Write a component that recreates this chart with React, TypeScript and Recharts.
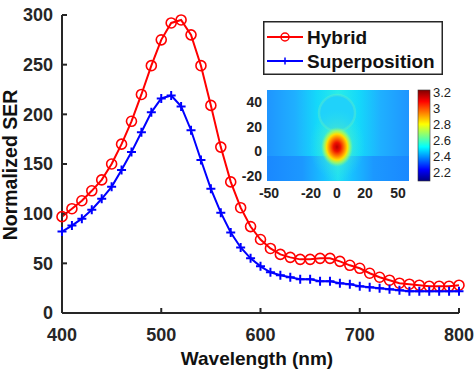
import React from "react";
import { LineChart, Line, XAxis, YAxis, Legend, Label } from "recharts";

const wavelengths = [
  400, 410, 420, 430, 440, 450, 460, 470, 480, 490, 500, 510, 520, 530, 540, 550, 560, 570, 580, 590,
  600, 610, 620, 630, 640, 650, 660, 670, 680, 690, 700, 710, 720, 730, 740, 750, 760, 770, 780, 790, 800,
];
const hybrid = [
  97, 105, 113, 123, 134, 150, 170, 193, 220, 249, 275, 292, 295, 280, 249, 209, 167, 132, 106, 87,
  74, 65, 59, 56, 54, 54, 55, 55, 52, 48, 45, 40, 36, 33, 30, 29, 28, 27, 27, 27, 28,
];
const superposition = [
  82, 88, 95, 104, 115, 127, 144, 162, 182, 202, 216, 219, 208, 184, 154, 125, 101, 81, 66, 55,
  47, 41, 38, 36, 34, 34, 32, 32, 30, 29, 27, 26, 25, 24, 23, 22, 22, 22, 22, 22, 22,
];
const xTicks = [400, 500, 600, 700, 800];
const yTicks = [0, 50, 100, 150, 200, 250, 300];
const insetYLabels = ["40", "20", "0", "-20"];
const insetXLabels = ["-50", "-20", "0", "20", "50"];
const colorbarLabels = ["3.2", "3", "2.8", "2.6", "2.4", "2.2"];

const data = wavelengths.map((w, i) => ({ w, hybrid: hybrid[i], superposition: superposition[i] }));

const FONT = "Arial, 'Liberation Sans', sans-serif";
const AX = "#262626";
const tickStyle = { fill: AX, fontSize: 18, fontWeight: 700, fontFamily: FONT };

const CircleDot = (props: any) => {
  const { cx, cy, key } = props;
  if (cx == null || cy == null) return null;
  return <circle key={key} cx={cx} cy={cy} r={5} fill="none" stroke="#ff0000" strokeWidth={1.6} />;
};
const PlusDot = (props: any) => {
  const { cx, cy, key } = props;
  if (cx == null || cy == null) return null;
  return (
    <path key={key} d={`M${cx - 4.5},${cy}H${cx + 4.5}M${cx},${cy - 4.5}V${cy + 4.5}`} stroke="#0000ff" strokeWidth={2} />
  );
};

const LegendBox = () => (
  <svg width={180} height={54} style={{ display: "block" }}>
    <rect x={0.75} y={0.75} width={178.5} height={52.5} fill="#fff" stroke={AX} strokeWidth={1.5} />
    <line x1={4} y1={16} x2={40} y2={16} stroke="#ff0000" strokeWidth={2} />
    <circle cx={22} cy={16} r={4} fill="none" stroke="#ff0000" strokeWidth={1.5} />
    <text x={44} y={23} fontFamily={FONT} fontWeight={700} fontSize={19} fill="#111">Hybrid</text>
    <line x1={4} y1={40} x2={40} y2={40} stroke="#0000ff" strokeWidth={2} />
    <path d="M22,36.5V43.5M18.5,40H25.5" stroke="#0000ff" strokeWidth={1.5} />
    <text x={44} y={47} fontFamily={FONT} fontWeight={700} fontSize={19} fill="#111">Superposition</text>
  </svg>
);

const Inset = () => (
  <svg width={474} height={370} style={{ position: "absolute", left: 0, top: 0, pointerEvents: "none" }}>
    <defs>
      <linearGradient id="hb" x1="0" x2="1" y1="0" y2="0">
        <stop offset="0" stopColor="#1f95ff" />
        <stop offset="0.2" stopColor="#1fb0ff" />
        <stop offset="0.35" stopColor="#14d8fa" />
        <stop offset="0.5" stopColor="#28ecea" />
        <stop offset="0.65" stopColor="#14d8fa" />
        <stop offset="0.8" stopColor="#1fb0ff" />
        <stop offset="1" stopColor="#1f95ff" />
      </linearGradient>
      <linearGradient id="hbLow" x1="0" x2="1" y1="0" y2="0">
        <stop offset="0" stopColor="#1a88ff" />
        <stop offset="0.25" stopColor="#1c98ff" />
        <stop offset="0.4" stopColor="#18c0ff" />
        <stop offset="0.5" stopColor="#20e0f2" />
        <stop offset="0.6" stopColor="#18c0ff" />
        <stop offset="0.75" stopColor="#1c98ff" />
        <stop offset="1" stopColor="#1a88ff" />
      </linearGradient>
      <radialGradient id="glow" cx="0.5" cy="0.5" r="0.5">
        <stop offset="0" stopColor="#a0ff60" stopOpacity="0.7" />
        <stop offset="0.5" stopColor="#60f4b0" stopOpacity="0.35" />
        <stop offset="1" stopColor="#30f0e0" stopOpacity="0" />
      </radialGradient>
      <radialGradient id="hot" cx="0.5" cy="0.5" r="0.5">
        <stop offset="0" stopColor="#b80000" />
        <stop offset="0.22" stopColor="#ee1000" />
        <stop offset="0.45" stopColor="#ff7a00" />
        <stop offset="0.65" stopColor="#ffe000" />
        <stop offset="0.82" stopColor="#c0ff40" stopOpacity="0.6" />
        <stop offset="1" stopColor="#80ff80" stopOpacity="0" />
      </radialGradient>
      <linearGradient id="jet" x1="0" x2="0" y1="0" y2="1">
        <stop offset="0" stopColor="#7f0000" />
        <stop offset="0.125" stopColor="#ff0000" />
        <stop offset="0.375" stopColor="#ffff00" />
        <stop offset="0.625" stopColor="#00ffff" />
        <stop offset="0.875" stopColor="#0000ff" />
        <stop offset="1" stopColor="#00007f" />
      </linearGradient>
      <clipPath id="hclip">
        <rect x={267} y={90} width={142} height={91} />
      </clipPath>
    </defs>
    <g clipPath="url(#hclip)">
      <rect x={267} y={90} width={142} height={91} fill="url(#hb)" />
      <rect x={267} y={156} width={142} height={25} fill="url(#hbLow)" />
      <circle cx={337} cy={113} r={18} fill="#20d2fa" stroke="#6cf0c0" strokeOpacity={0.35} strokeWidth={2.5} />
      <ellipse cx={337} cy={145} rx={28} ry={36} fill="url(#glow)" />
      <ellipse cx={337} cy={147} rx={16} ry={20} fill="url(#hot)" />
    </g>
    <rect x={418} y={90} width={12} height={91} fill="url(#jet)" stroke="#333" strokeWidth={0.6} />
    {colorbarLabels.map((t, i) => (
      <text key={t} x={433} y={96.5 + i * 16} fontFamily={FONT} fontSize={13} fill="#222">{t}</text>
    ))}
    {insetYLabels.map((t, i) => (
      <text key={t} x={262} y={[107, 132, 156, 181][i]} textAnchor="end" fontFamily={FONT} fontWeight={700} fontSize={14} fill="#222">{t}</text>
    ))}
    {insetXLabels.map((t, i) => (
      <text key={t} x={[269, 311, 337, 365, 398][i]} y={198} textAnchor="middle" fontFamily={FONT} fontWeight={700} fontSize={14} fill="#222">{t}</text>
    ))}
  </svg>
);

export default function App() {
  return (
    <div style={{ position: "absolute", left: 0, top: 0, width: 474, height: 370, background: "#fff" }}>
      <LineChart width={474} height={370} data={data} margin={{ top: 15, right: 15, bottom: 27, left: 12 }}>
        <XAxis
          dataKey="w"
          type="number"
          domain={[400, 800]}
          ticks={xTicks}
          interval={0}
          height={30}
          stroke={AX}
          strokeWidth={2}
          tickSize={-5}
          tickMargin={20}
          tick={tickStyle}
        >
          <Label
            content={() => (
              <text x={257} y={365} textAnchor="middle" fontFamily={FONT} fontWeight={700} fontSize={19} fill="#111">
                Wavelength (nm)
              </text>
            )}
          />
        </XAxis>
        <XAxis
          xAxisId="top"
          orientation="top"
          type="number"
          domain={[400, 800]}
          ticks={xTicks}
          interval={0}
          height={0}
          stroke={AX}
          strokeWidth={2}
          tickSize={-5}
          tickFormatter={() => ""}
        />
        <YAxis
          type="number"
          domain={[0, 300]}
          ticks={yTicks}
          interval={0}
          width={50}
          stroke={AX}
          strokeWidth={2}
          tickSize={-5}
          tickMargin={14}
          tick={tickStyle}
        >
          <Label
            content={() => (
              <text x={17} y={165} transform="rotate(-90 17 165)" textAnchor="middle" fontFamily={FONT} fontWeight={700} fontSize={19.5} fill="#111">
                Normalized SER
              </text>
            )}
          />
        </YAxis>
        <YAxis
          yAxisId="right"
          orientation="right"
          type="number"
          domain={[0, 300]}
          ticks={yTicks}
          interval={0}
          width={0}
          stroke={AX}
          strokeWidth={2}
          tickSize={-5}
          tickFormatter={() => ""}
        />
        <Line
          dataKey="hybrid"
          name="Hybrid"
          type="linear"
          stroke="#ff0000"
          strokeWidth={2}
          dot={CircleDot}
          activeDot={false}
          isAnimationActive={false}
        />
        <Line
          dataKey="superposition"
          name="Superposition"
          type="linear"
          stroke="#0000ff"
          strokeWidth={2}
          dot={PlusDot}
          activeDot={false}
          isAnimationActive={false}
        />
        <Legend
          layout="vertical"
          align="center"
          verticalAlign="middle"
          content={() => <LegendBox />}
          wrapperStyle={{ position: "absolute", left: 263, top: 21, width: 180, height: 54 }}
        />
      </LineChart>
      <Inset />
    </div>
  );
}
